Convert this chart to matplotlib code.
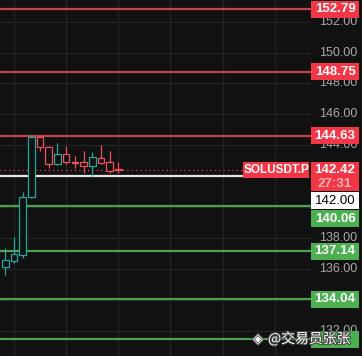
import numpy as np
import matplotlib.pyplot as plt
import matplotlib.patheffects as pe
from matplotlib.patches import Rectangle

plt.rcParams['font.family'] = ['Liberation Sans', 'Noto Sans CJK SC', 'DejaVu Sans']

# --- candle data (15m SOLUSDT.P) ---
opens  = [136.14, 136.53, 136.90, 140.63, 144.56, 143.87, 142.77, 143.42, 142.90, 142.90, 142.68, 143.16, 142.90, 142.45]
highs  = [137.33, 138.09, 141.00, 144.67, 144.62, 143.95, 144.13, 143.95, 143.31, 143.63, 143.55, 144.02, 143.63, 142.90]
lows   = [135.61, 136.40, 136.69, 140.60, 143.65, 142.51, 142.75, 142.79, 142.51, 142.19, 141.97, 142.80, 142.23, 142.23]
closes = [136.58, 136.94, 140.63, 144.56, 143.87, 142.77, 143.42, 142.90, 142.88, 142.68, 143.22, 142.83, 142.36, 142.42]

# --- horizontal levels ---
red_levels = [152.79, 148.75, 144.63]
green_levels = [140.06, 137.14, 134.04, 131.46]
white_level = 142.00
mark_price = 142.42
symbol = "SOLUSDT.P"
countdown = "27:31"
grid_values = [132, 134, 136, 138, 140, 142, 144, 146, 148, 150, 152]
# price-scale labels that are not hidden behind the level tags
tick_labels = [132, 136, 138, 144, 146, 148, 150, 152]
watermark = "@交易员张张"

# --- style / layout ---
BG = '#111111'
GRID = '#242424'
UP = '#26a69a'
DOWN = '#f0505c'
RED_LINE = '#c8424d'
GREEN_LINE = '#4f9f4f'
RED_BOX = '#f23645'
GREEN_BOX = '#4caf50'
W, H = 362, 356
Y_TOP, Y_BOT = 153.40, 130.36
PX = (Y_TOP - Y_BOT) / H          # price units per pixel
X_LEFT = -0.61
X_RIGHT = X_LEFT + W / 8.69
PLOT_EDGE = 310 / W                # right edge of the chart pane (axes fraction)
label_shift = {142.00: 140.41, 140.06: 139.23}   # collided labels pushed down

fig = plt.figure(figsize=(W / 100, H / 100), dpi=100, facecolor=BG)
ax = fig.add_axes([0, 0, 1, 1])
ax.set_facecolor(BG)
ax.set_xlim(X_LEFT, X_RIGHT)
ax.set_ylim(Y_BOT, Y_TOP)
ax.axis('off')
ytr = ax.get_yaxis_transform()

# grid
for t in grid_values:
    ax.plot([0, PLOT_EDGE], [t, t], color=GRID, lw=0.8, transform=ytr, zorder=0)
for gx in np.arange(1, 35, 6):
    ax.axvline(gx, color=GRID, lw=0.8, zorder=0)

# tick labels on the price scale
for t in tick_labels:
    ax.text(357 / W, t, f"{t:.2f}", transform=ytr, ha='right', va='center',
            color='#a8a8a8', fontsize=9, zorder=2)

# level lines
for lv in red_levels:
    ax.plot([0, PLOT_EDGE], [lv, lv], color=RED_LINE, lw=1.6, transform=ytr, zorder=3)
for lv in green_levels:
    ax.plot([0, PLOT_EDGE], [lv, lv], color=GREEN_LINE, lw=1.6, transform=ytr, zorder=3)
ax.plot([0, 245 / W], [white_level, white_level], color='#e6e6e6', lw=1.6,
        transform=ytr, zorder=3)
ax.plot([0, 243 / W], [mark_price, mark_price], color=RED_BOX, lw=0.9,
        ls=(0, (1, 2.5)), transform=ytr, zorder=3)

# candles (hollow style)
for i, (o, h, l, c) in enumerate(zip(opens, highs, lows, closes)):
    col = UP if c > o else DOWN
    lo, hi = min(o, c), max(o, c)
    ax.add_patch(Rectangle((i - 0.38, lo), 0.76, max(hi - lo, 0.02),
                           facecolor=BG, edgecolor=col, lw=0.9, zorder=5))
    ax.vlines(i, hi, h, color=col, lw=0.9, zorder=5)
    ax.vlines(i, l, lo, color=col, lw=0.9, zorder=5)


def price_box(y, text, fc, tc='white', h_px=17, x0=311, x1=359, bold=True):
    ax.add_patch(Rectangle((x0 / W, y - h_px * PX / 2), (x1 - x0) / W, h_px * PX,
                           transform=ytr, facecolor=fc, edgecolor='none', zorder=8,
                           clip_on=False))
    ax.text((x0 + x1) / 2 / W, y, text, transform=ytr, ha='center', va='center',
            color=tc, fontsize=9.5, fontweight='bold' if bold else 'normal', zorder=9)


for lv in red_levels:
    price_box(lv, f"{lv:.2f}", RED_BOX)
for lv in green_levels[:-1]:
    price_box(label_shift.get(lv, lv), f"{lv:.2f}", GREEN_BOX)
price_box(label_shift[white_level], f"{white_level:.2f}", 'white', tc='black', bold=False)

# last level tag sits under the watermark, only its box shows
lv = green_levels[-1]
ax.add_patch(Rectangle((311 / W, lv - 8.5 * PX), 48 / W, 17 * PX, transform=ytr,
                       facecolor=GREEN_BOX, edgecolor='none', zorder=8))

# mark price box with countdown
top = mark_price + 7.3 * PX
ax.add_patch(Rectangle((311 / W, top - 29 * PX), 48 / W, 29 * PX, transform=ytr,
                       facecolor=RED_BOX, edgecolor='none', zorder=8))
ax.text(335 / W, mark_price, f"{mark_price:.2f}", transform=ytr, ha='center',
        va='center', color='white', fontsize=9.5, fontweight='bold', zorder=9)
ax.text(335 / W, mark_price - 14 * PX, countdown, transform=ytr, ha='center',
        va='center', color='#f9b3b9', fontsize=9.5, fontweight='bold', zorder=9)

# symbol tag
ax.add_patch(Rectangle((243 / W, mark_price - 8 * PX), 66 / W, 16 * PX, transform=ytr,
                       facecolor=RED_BOX, edgecolor='none', zorder=8))
ax.text(276 / W, mark_price, symbol, transform=ytr, ha='center', va='center',
        color='white', fontsize=8.5, fontweight='bold', zorder=9)

# watermark
shadow = [pe.withStroke(linewidth=1.5, foreground='#444444')]
ax.text(258 / W, lv, "◈", transform=ytr, ha='center', va='center', color='white',
        fontsize=10, zorder=10, path_effects=shadow, family=['DejaVu Sans'])
ax.text(268 / W, lv, watermark, transform=ytr, ha='left', va='center',
        color='white', fontsize=10, zorder=10, path_effects=shadow,
        family=['Noto Sans CJK SC', 'DejaVu Sans'])

fig.savefig('out.png', dpi=100, facecolor=BG)
